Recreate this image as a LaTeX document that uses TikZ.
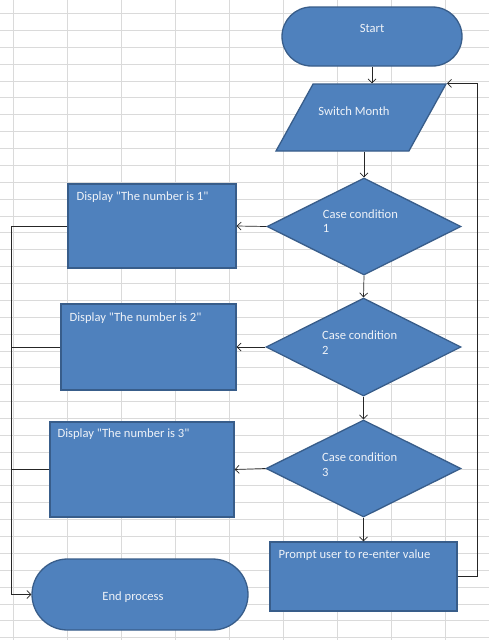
\documentclass[tikz,border=0pt]{standalone}
\usepackage{fontspec}
\setmainfont{Carlito}
\usetikzlibrary{shapes.geometric, shapes.misc, positioning, arrows.meta}
\definecolor{boxblue}{HTML}{4F81BD}
\definecolor{boxedge}{HTML}{385D8A}
\definecolor{cellline}{HTML}{DADADA}
\definecolor{wire}{HTML}{262626}
\definecolor{boxtext}{HTML}{EEF2F8}
\newcommand{\qt}{\textquotedbl}

\begin{document}
\begin{tikzpicture}[x=1pt, y=-1pt, >={Straight Barb[length=4pt, width=8pt]},
    blue fill/.style = {draw=boxedge, fill=boxblue, line width=1.3pt, inner sep=2pt},
    term/.style = {blue fill, rounded rectangle},
    io/.style = {blue fill, trapezium, trapezium left angle=65, trapezium right angle=115, trapezium stretches=true},
    decision/.style = {blue fill, diamond},
    process/.style = {blue fill, rectangle},
    txt/.style = {text=boxtext, font=\fontsize{12.6}{14.5}\selectfont, inner sep=0pt, align=left},
    wire/.style = {draw=wire, line width=0.7pt}]
    \useasboundingbox (0,0) rectangle (489,640);
    \fill[white] (0,0) rectangle (489,640);

    % sheet cells
    \foreach \x in {13,67,...,445}
        \draw[cellline, line width=0.8pt] (\x,0) -- (\x,640);
    \foreach \i in {0,...,37}
        \draw[cellline, line width=0.8pt] (0,{13.5+16.87*\i}) -- (489,{13.5+16.87*\i});

    \node[term, minimum width=184, minimum height=59] (start) at (372,36.5)
        [label={[txt, yshift=8.5pt]center:Start}] {};
    \node[io, minimum width=170, minimum height=67] (switch) at (361,117.5)
        [label={[txt, xshift=-7pt, yshift=6.5pt]center:Switch Month}] {\phantom{M}};

    \node[decision, minimum width=194, minimum height=97] (c1) at (364,226.5)
        [label={[txt, anchor=north west, xshift=7.5pt, yshift=-7.5pt]north west:Case condition\\1}] {};
    \node[decision, minimum width=195, minimum height=98] (c2) at (363.5,347)
        [label={[txt, anchor=north west, xshift=7.5pt, yshift=-8.5pt]north west:Case condition\\2}] {};
    \node[decision, minimum width=195, minimum height=97] (c3) at (363.5,468.5)
        [label={[txt, anchor=north west, xshift=7.5pt, yshift=-9pt]north west:Case condition\\3}] {};

    \node[process, minimum width=168, minimum height=84] (b1) at (152,226)
        [label={[txt, anchor=north west, xshift=9pt, yshift=-8pt]north west:Display \qt The number is 1\qt}] {};
    \node[process, minimum width=175, minimum height=86] (b2) at (148.5,347)
        [label={[txt, anchor=north west, xshift=9pt, yshift=-9.5pt]north west:Display \qt The number is 2\qt}] {};
    \node[process, minimum width=184, minimum height=95] (b3) at (142,469.5)
        [label={[txt, anchor=north west, xshift=8pt, yshift=-7.5pt]north west:Display \qt The number is 3\qt}] {};

    \node[process, minimum width=187, minimum height=69] (prompt) at (363.5,576.5)
        [label={[txt, anchor=north west, xshift=9pt, yshift=-8.5pt]north west:Prompt user to re-enter value}] {};
    \node[term, minimum width=220, minimum height=71] (end) at (140,594.5)
        [label={[txt, xshift=-7pt, yshift=-2.5pt]center:End process}] {};

    \coordinate (bus) at (11,0);
    \coordinate (back) at (477,0);

    \draw[wire, ->] (start) -- (start |- switch.north);
    \draw[wire, ->] (c1.north |- switch.south) -- (c1.north);
    \draw[wire, ->] (c1.west) -- (b1.east);
    \draw[wire, ->] (c1.south) -- (c2.north);
    \draw[wire, ->] (c2.west) -- (b2.east);
    \draw[wire, ->] (c2.south) -- (c3.north);
    \draw[wire, ->] (c3.west) -- (b3.east);
    \draw[wire, ->] (c3.south) -- (prompt.north);
    \draw[wire, ->] (prompt.east) -- (prompt.east -| back) |- (switch.top right corner);
    \draw[wire, ->] (b1.west) -- (b1.west -| bus) |- (end.west);
    \draw[wire] (b2.west) -- (b2.west -| bus);
    \draw[wire] (b3.west) -- (b3.west -| bus);
\end{tikzpicture}
\end{document}
